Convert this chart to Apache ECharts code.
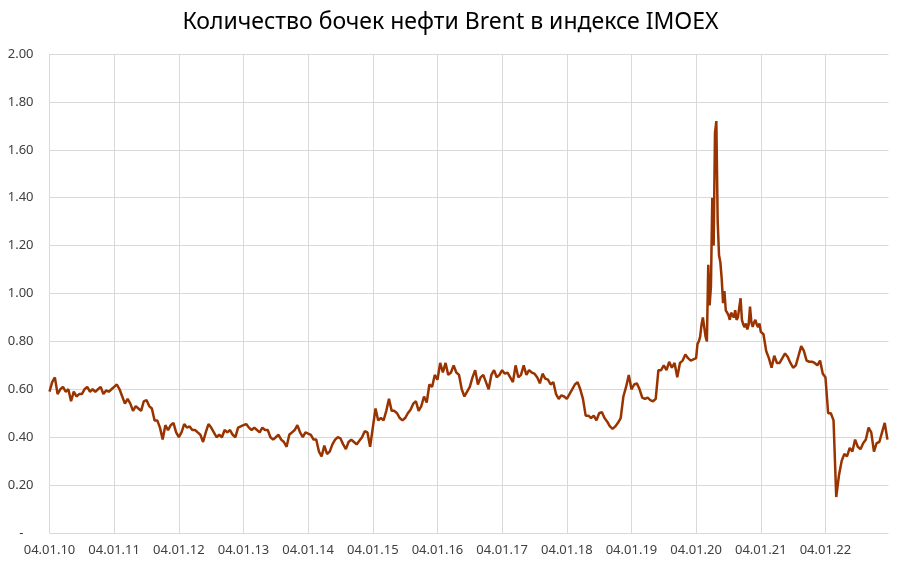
<!DOCTYPE html>
<html>
<head>
<meta charset="UTF-8">
<title>Количество бочек нефти Brent в индексе IMOEX</title>
<script src="https://cdn.jsdelivr.net/npm/echarts@6/dist/echarts.min.js"></script>
<style>
	html, body { margin: 0; padding: 0; background: #fff; }
	#main { width: 901px; height: 566px; }
</style>
</head>
<body>
<div id="main"></div>
<script type="text/javascript">
// подписи оси X: 04.01 каждого года
var yearLabels = ['10', '11', '12', '13', '14', '15', '16', '17', '18', '19', '20', '21', '22'];

// значения с 04.01 одного года до 04.01 следующего (по полмесяца, 2020 - по неделям)
var v2010 = [0.59, 0.63, 0.65, 0.58, 0.60, 0.61, 0.59, 0.60, 0.55, 0.59, 0.57, 0.58, 0.58, 0.60, 0.61, 0.59, 0.60, 0.59, 0.60, 0.61, 0.58, 0.595, 0.59, 0.60];
var v2011 = [0.61, 0.62, 0.60, 0.57, 0.54, 0.56, 0.54, 0.51, 0.53, 0.52, 0.51, 0.55, 0.555, 0.53, 0.52, 0.47, 0.47, 0.44, 0.39, 0.45, 0.43, 0.45, 0.46, 0.42];
var v2012 = [0.40, 0.42, 0.455, 0.44, 0.445, 0.43, 0.43, 0.42, 0.41, 0.38, 0.42, 0.455, 0.44, 0.42, 0.40, 0.41, 0.40, 0.43, 0.42, 0.43, 0.41, 0.40, 0.44, 0.445];
var v2013 = [0.45, 0.455, 0.44, 0.43, 0.44, 0.43, 0.42, 0.44, 0.43, 0.43, 0.40, 0.39, 0.40, 0.41, 0.39, 0.38, 0.36, 0.41, 0.42, 0.43, 0.45, 0.42, 0.40, 0.42];
var v2014 = [0.415, 0.41, 0.39, 0.39, 0.34, 0.32, 0.365, 0.33, 0.34, 0.37, 0.39, 0.40, 0.395, 0.37, 0.35, 0.38, 0.39, 0.38, 0.37, 0.385, 0.40, 0.425, 0.42, 0.36];
var v2015 = [0.44, 0.52, 0.47, 0.48, 0.47, 0.51, 0.56, 0.51, 0.51, 0.50, 0.48, 0.47, 0.48, 0.50, 0.515, 0.54, 0.55, 0.51, 0.53, 0.57, 0.545, 0.62, 0.61, 0.66];
var v2016 = [0.64, 0.71, 0.67, 0.71, 0.66, 0.67, 0.70, 0.67, 0.66, 0.60, 0.57, 0.59, 0.61, 0.65, 0.68, 0.62, 0.65, 0.66, 0.63, 0.60, 0.66, 0.68, 0.65, 0.66];
var v2017 = [0.68, 0.665, 0.67, 0.65, 0.63, 0.70, 0.65, 0.66, 0.70, 0.66, 0.68, 0.67, 0.665, 0.65, 0.625, 0.665, 0.645, 0.64, 0.62, 0.63, 0.58, 0.56, 0.575, 0.57];
var v2018 = [0.56, 0.58, 0.60, 0.62, 0.63, 0.60, 0.56, 0.49, 0.49, 0.48, 0.49, 0.47, 0.50, 0.505, 0.48, 0.465, 0.445, 0.435, 0.445, 0.46, 0.48, 0.57, 0.61, 0.66];
var v2019 = [0.60, 0.62, 0.625, 0.60, 0.565, 0.56, 0.565, 0.555, 0.55, 0.56, 0.68, 0.68, 0.70, 0.68, 0.715, 0.69, 0.71, 0.65, 0.71, 0.72, 0.745, 0.73, 0.72, 0.725];
var v2020 = [0.73, 0.79, 0.80, 0.82, 0.87, 0.90, 0.86, 0.82, 0.80, 1.12, 0.95, 1.03, 1.40, 1.20, 1.67, 1.72,
	1.30, 1.16, 1.13, 1.06, 0.96, 1.01, 0.93, 0.92, 0.91, 0.89, 0.92, 0.91, 0.90, 0.93, 0.89, 0.90,
	0.94, 0.98, 0.89, 0.87, 0.86, 0.875, 0.85, 0.87, 0.945, 0.88, 0.86, 0.88, 0.89, 0.87, 0.86, 0.875];
var v2021 = [0.84, 0.83, 0.76, 0.73, 0.69, 0.74, 0.71, 0.71, 0.73, 0.75, 0.735, 0.71, 0.69, 0.70, 0.74, 0.78, 0.76, 0.72, 0.715, 0.715, 0.71, 0.70, 0.72, 0.665];
var v2022 = [0.65, 0.50, 0.50, 0.47, 0.15, 0.24, 0.30, 0.33, 0.32, 0.355, 0.34, 0.39, 0.36, 0.35, 0.375, 0.39, 0.44, 0.42, 0.34, 0.375, 0.38, 0.42, 0.46, 0.39];

var yearValues = [v2010, v2011, v2012, v2013, v2014, v2015, v2016, v2017, v2018, v2019, v2020, v2021, v2022];

// ось Y
var yMin = 0, yMax = 2, yStep = 0.2;

// точки: x = годы от 04.01.10
var points = [];
for (var k = 0; k < yearValues.length; k++) {
	var arr = yearValues[k];
	for (var i = 0; i < arr.length; i++) {
		points.push([k + i / arr.length, arr[i]]);
	}
}

// вертикальная сетка на 04.01 каждого года
var yearLines = [];
for (var j = 0; j < yearLabels.length; j++) {
	yearLines.push({ xAxis: j });
}

var myChart = echarts.init(document.getElementById('main'));
var font = '"Noto Sans", sans-serif';

var option = {
	animation: false,
	backgroundColor: '#fff',
	title: {
		text: 'Количество бочек нефти Brent в индексе IMOEX',
		left: 'center',
		top: 6,
		textStyle: { fontFamily: font, fontSize: 23, fontWeight: 'normal', color: '#000' }
	},
	grid: { left: 49.5, right: 12.5, top: 54, bottom: 33 },
	xAxis: {
		type: 'value',
		min: 0,
		max: 12.975,
		interval: 1,
		axisLine: { show: false },
		axisTick: { show: false },
		splitLine: { show: false },
		axisLabel: {
			margin: 11,
			fontFamily: font,
			fontSize: 13,
			color: '#404040',
			formatter: function (v) {
				var n = Math.round(v);
				if (Math.abs(v - n) > 1e-6 || !yearLabels[n]) return '';
				return '04.01.' + yearLabels[n];
			}
		}
	},
	yAxis: {
		type: 'value',
		min: yMin,
		max: yMax,
		interval: yStep,
		axisLine: { show: false },
		axisTick: { show: false },
		splitLine: { lineStyle: { color: '#d9d9d9', width: 1 } },
		axisLabel: {
			margin: 16,
			fontFamily: font,
			fontSize: 13,
			color: '#404040',
			formatter: function (v) {
				return Math.abs(v) < 1e-9 ? '-   ' : v.toFixed(2);
			}
		}
	},
	series: [
		{
			// только сетка по годам
			type: 'line',
			data: [],
			z: 1,
			silent: true,
			markLine: {
				silent: true,
				symbol: ['none', 'none'],
				label: { show: false },
				lineStyle: { color: '#d9d9d9', width: 1, type: 'solid' },
				data: yearLines
			}
		},
		{
			name: 'Brent в IMOEX',
			type: 'line',
			z: 5,
			data: points,
			showSymbol: false,
			lineStyle: { color: '#993300', width: 2.5 },
			itemStyle: { color: '#993300' }
		}
	]
};

myChart.setOption(option);
</script>
</body>
</html>
